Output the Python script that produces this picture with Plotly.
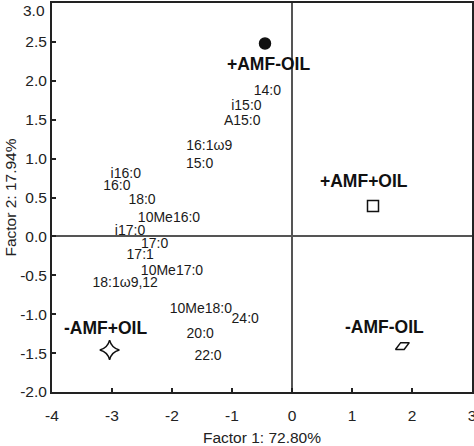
import plotly.graph_objects as go

# fatty acid loadings (Factor 1, Factor 2)
acidos = ['14:0', 'i15:0', 'A15:0', '16:1ω9', '15:0', 'i16:0', '16:0', '18:0',
          '10Me16:0', 'i17:0', '17:0', '17:1', '10Me17:0', '18:1ω9,12',
          '10Me18:0', '24:0', '20:0', '22:0']
fator1 = [-0.41, -0.76, -0.83, -1.38, -1.54, -2.77, -2.92, -2.50,
          -2.05, -2.70, -2.29, -2.53, -2.00, -2.78,
          -1.52, -0.78, -1.53, -1.40]
fator2 = [1.86, 1.67, 1.48, 1.16, 0.92, 0.79, 0.64, 0.46,
          0.23, 0.06, -0.11, -0.25, -0.45, -0.61,
          -0.94, -1.07, -1.26, -1.55]

# treatment scores
tratamentos = ['+AMF-OIL', '+AMF+OIL', '-AMF-OIL', '-AMF+OIL']
trat_f1 = [-0.45, 1.35, 1.84, -3.04]
trat_f2 = [2.48, 0.39, -1.41, -1.46]

x_ticks = [-4, -3, -2, -1, 0, 1, 2, 3]
y_ticks = [-2.0, -1.5, -1.0, -0.5, 0.0, 0.5, 1.0, 1.5, 2.0, 2.5, 3.0]

# marker style and label offset (px) per treatment
estilo = {
    '+AMF-OIL': dict(symbol='circle', size=11, angle=0, dx=3, dy=-21),
    '+AMF+OIL': dict(symbol='square-open', size=11, angle=0, dx=-9, dy=25),
    '-AMF-OIL': dict(symbol='diamond-wide-open', size=11, angle=-26.57, dx=-18, dy=19),
    '-AMF+OIL': dict(symbol='star-diamond-open', size=14, angle=0, dx=-4, dy=22),
}

fonte = 'Liberation Sans, Arial, sans-serif'

fig = go.Figure()

fig.add_trace(go.Scatter(
    x=fator1,
    y=fator2,
    mode='text',
    text=acidos,
    textposition='middle center',
    textfont=dict(family=fonte, size=14, color='#1a1a1a'),
    hoverinfo='text'
))

for i, t in enumerate(tratamentos):
    s = estilo[t]
    fig.add_trace(go.Scatter(
        x=[trat_f1[i]],
        y=[trat_f2[i]],
        mode='markers',
        name=t,
        marker=dict(symbol=s['symbol'], size=s['size'], angle=s['angle'],
                    color='#111', line=dict(color='#111', width=1.5))
    ))
    fig.add_annotation(
        x=trat_f1[i], y=trat_f2[i], text='<b>' + t + '</b>',
        showarrow=False, xshift=s['dx'], yshift=s['dy'],
        font=dict(family=fonte, size=17.5, color='#111')
    )

# top y label sits a bit lower so it fits inside the page
y_text = ['%.1f' % v for v in y_ticks]
fig.add_annotation(
    x=0, xref='paper', y=y_ticks[-1], yref='y', text=y_text[-1],
    showarrow=False, xanchor='right', yanchor='middle', xshift=-5, yshift=-7,
    font=dict(family=fonte, size=15.5, color='#222')
)
y_text[-1] = ''

eixo = dict(
    showgrid=False,
    zeroline=True,
    zerolinecolor='#555',
    zerolinewidth=1.5,
    showline=True,
    linecolor='#222',
    linewidth=2,
    mirror=True,
    ticks='inside',
    ticklen=4,
    tickwidth=1.5,
    tickcolor='#222',
    ticklabeloverflow='allow',
    tickfont=dict(family=fonte, size=15.5, color='#222'),
    automargin=False
)

fig.update_layout(
    width=474,
    height=446,
    showlegend=False,
    template='plotly_white',
    plot_bgcolor='white',
    paper_bgcolor='white',
    margin=dict(l=52, r=2, t=3, b=54),
    xaxis=dict(eixo, range=[-4, 3], tickvals=x_ticks, ticktext=[str(v) for v in x_ticks],
               ticklabelstandoff=8,
               title=dict(text='Factor 1: 72.80%', font=dict(family=fonte, size=15.5, color='#222'),
                          standoff=23)),
    yaxis=dict(eixo, range=[-2, 3], tickvals=y_ticks, ticktext=y_text,
               title=dict(text='Factor 2: 17.94%', font=dict(family=fonte, size=15.5, color='#222'),
                          standoff=0)),
)

fig.write_html("out.html", config={'displayModeBar': False},
               post_script="document.body.style.margin='0';")
